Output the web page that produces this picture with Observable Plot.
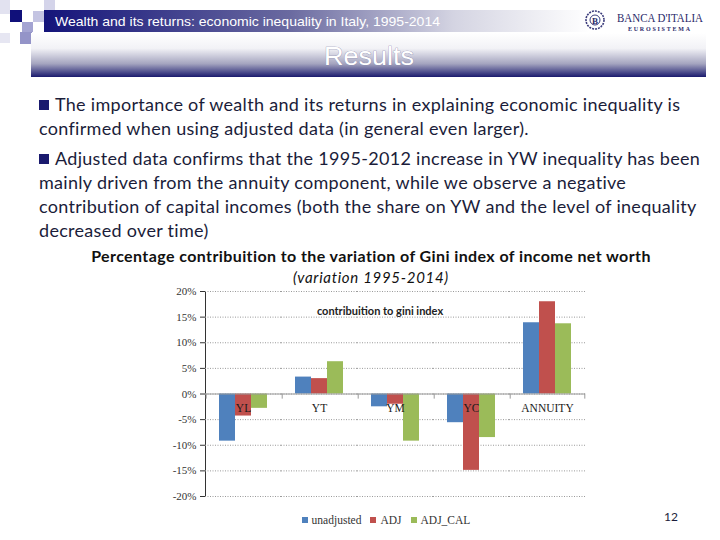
<!DOCTYPE html>
<html>
<head>
<meta charset="utf-8">
<script src="https://cdn.jsdelivr.net/npm/d3@7"></script>
<script src="https://cdn.jsdelivr.net/npm/@observablehq/plot@0.6"></script>
<style>
  html, body { margin: 0; padding: 0; background: #fff; }
  #page { position: relative; width: 720px; height: 540px; overflow: hidden; background: #fff; }
  .abs { position: absolute; }
  #body { left: 39px; top: 92px; font-family: Lato, "Open Sans", sans-serif; font-size: 18px; letter-spacing: 0.3px; color: #1b1d3a; white-space: nowrap; }
  #body p { margin: 0 0 5px 0; line-height: 24.3px; }
  .bul { display: inline-block; width: 10px; height: 10px; background: #1a1a6e; margin-right: 6px; vertical-align: 1px; }
  #ctitle { left: 0; width: 742px; top: 246px; text-align: center; font-family: Lato, sans-serif; font-weight: bold; font-size: 16px; letter-spacing: 0.4px; color: #111; white-space: nowrap; }
  #csub { left: 0; width: 742px; top: 268px; text-align: center; font-family: Lato, sans-serif; font-style: italic; font-size: 15px; letter-spacing: 0.7px; color: #111; }
  #inner { left: 205px; width: 350px; top: 304px; text-align: center; font-family: Lato, sans-serif; font-weight: bold; font-size: 11px; color: #222; }
  #legend { left: 205px; width: 362px; top: 514px; display: flex; justify-content: center; gap: 9px; font-family: "Liberation Serif", serif; font-size: 11.5px; color: #333; }
  #legend span.sw { display: inline-block; width: 6px; height: 6px; margin-right: 4px; vertical-align: 1px; }
  #pnum { left: 664px; top: 509px; font-family: Lato, sans-serif; font-size: 12px; color: #1b1d3a; }
  #chart { left: 0; top: 280px; }
</style>
</head>
<body>
<div id="page">
  <svg class="abs" style="left:0;top:0" width="720" height="80">
    <defs>
      <linearGradient id="g1" x1="0" x2="1" y1="0" y2="0">
        <stop offset="0" stop-color="#14147a"/>
        <stop offset="0.45" stop-color="#6a6aa0"/>
        <stop offset="0.75" stop-color="#d4d4e2"/>
        <stop offset="1" stop-color="#ffffff"/>
      </linearGradient>
      <linearGradient id="g2" x1="0" x2="0" y1="0" y2="1">
        <stop offset="0" stop-color="#ffffff"/>
        <stop offset="0.35" stop-color="#f2f2f6"/>
        <stop offset="0.7" stop-color="#a4a4bf"/>
        <stop offset="1" stop-color="#1a1a6e"/>
      </linearGradient>
    </defs>
    <rect x="0" y="0" width="10" height="14" fill="#e2e2f0"/>
    <rect x="44" y="0" width="11" height="10" fill="#d4d4ea"/>
    <rect x="33" y="11" width="11" height="11" fill="#c4c4e2"/>
    <rect x="10" y="10" width="12" height="12" fill="#10107a"/>
    <rect x="22" y="22" width="11" height="10" fill="#a4a4d2"/>
    <rect x="20" y="32" width="12" height="12" fill="#9494c8"/>
    <rect x="0" y="33" width="10" height="10" fill="#e6e6f2"/>
    <rect x="44" y="10" width="546" height="22" fill="url(#g1)"/>
    <text x="55" y="26" fill="#fff" font-family="Liberation Sans, sans-serif" font-size="13" textLength="385" lengthAdjust="spacingAndGlyphs">Wealth and its returns: economic inequality in Italy, 1995-2014</text>
    <rect x="31" y="33" width="675" height="44" fill="url(#g2)"/>
    <text x="369" y="65" fill="#fff" font-family="Liberation Sans, sans-serif" font-size="26" text-anchor="middle" textLength="90" lengthAdjust="spacingAndGlyphs" style="paint-order:stroke" stroke="#8888aa" stroke-width="0.6">Results</text>
    <circle cx="595" cy="20" r="9" fill="none" stroke="#3a3a7a" stroke-width="1.6" stroke-dasharray="2,1"/>
    <circle cx="595" cy="20" r="5" fill="none" stroke="#3a3a7a" stroke-width="1"/>
    <text x="595" y="23.5" fill="#2a2a6a" font-family="Liberation Serif, serif" font-size="9" font-weight="bold" text-anchor="middle">B</text>
    <text x="617" y="22" fill="#2a2a6a" font-family="Liberation Serif, serif" font-size="11.5" textLength="86" lengthAdjust="spacingAndGlyphs">BANCA D'ITALIA</text>
    <text x="628" y="31" fill="#2a2a6a" font-family="Liberation Serif, serif" font-size="6" font-weight="bold" textLength="62" lengthAdjust="spacing">EUROSISTEMA</text>
  </svg>

  <div id="body" class="abs">
    <p><span class="bul"></span>The importance of wealth and its returns in explaining economic inequality is<br>confirmed when using adjusted data (in general even larger).</p>
    <p><span class="bul"></span>Adjusted data confirms that the 1995-2012 increase in YW inequality has been<br>mainly driven from the annuity component, while we observe a negative<br>contribution of capital incomes (both the share on YW and the level of inequality<br>decreased over time)</p>
  </div>
  <div id="ctitle" class="abs">Percentage contribuition to the variation of Gini index of income net worth</div>
  <div id="csub" class="abs">(variation 1995-2014)</div>
  <div id="chart" class="abs"></div>
  <div id="inner" class="abs">contribuition to gini index</div>
  <div id="legend" class="abs"></div>
  <div id="pnum" class="abs">12</div>
</div>
<script>
const categories = ["YL", "YT", "YM", "YC", "ANNUITY"];
const series = ["unadjusted", "ADJ", "ADJ_CAL"];
const unadjusted = [-9.2, 3.3, -2.5, -5.6, 13.9];
const adj = [-4.3, 3.0, -2.0, -14.9, 18.0];
const adjCal = [-2.8, 6.3, -9.2, -8.5, 13.7];
const colors = ["#4f81bd", "#c0504d", "#9bbb59"];
const yTicks = [-20, -15, -10, -5, 0, 5, 10, 15, 20];

const values = [unadjusted, adj, adjCal];
const data = [];
categories.forEach((c, i) => series.forEach((s, j) => data.push({cat: c, series: s, value: values[j][i]})));

const chart = Plot.plot({
  width: 720,
  height: 250,
  marginLeft: 205,
  marginRight: 135,
  marginTop: 11,
  marginBottom: 34,
  style: {fontFamily: "Liberation Serif, serif", fontSize: "11px", color: "#333", background: "transparent"},
  fx: {domain: categories, padding: 0, axis: null},
  x: {domain: series, paddingInner: 0, paddingOuter: 0.78, axis: null},
  y: {domain: [-20, 20], ticks: yTicks, tickFormat: d => d + "%", tickSize: 5, label: null, line: true},
  color: {domain: series, range: colors},
  marks: [
    Plot.gridY(yTicks, {stroke: "#9a9a9a", strokeOpacity: 1, strokeDasharray: "1,1.5"}),
    Plot.barY(data, {fx: "cat", x: "series", y: "value", fill: "series"}),
    Plot.ruleY([0], {stroke: "#9a9a9a", strokeWidth: 1}),
    Plot.ruleX(categories, {fx: d => d, x: () => series[0], dx: -21.3, y1: 0, y2: -1, stroke: "#9a9a9a"}),
    Plot.ruleX(categories.slice(-1), {fx: d => d, x: () => series[2], dx: 21.3, y1: 0, y2: -1, stroke: "#9a9a9a"}),
    Plot.text(categories, {fx: d => d, text: d => d, y: () => 0, dy: 14, fill: "#1a1a1a", fontSize: 11.5, fontFamily: "Liberation Serif, serif"})
  ]
});
document.getElementById("chart").appendChild(chart);

const legend = document.getElementById("legend");
series.forEach((s, j) => {
  const item = document.createElement("div");
  item.innerHTML = `<span class="sw" style="background:${colors[j]}"></span>${s}`;
  legend.appendChild(item);
});
</script>
</body>
</html>
